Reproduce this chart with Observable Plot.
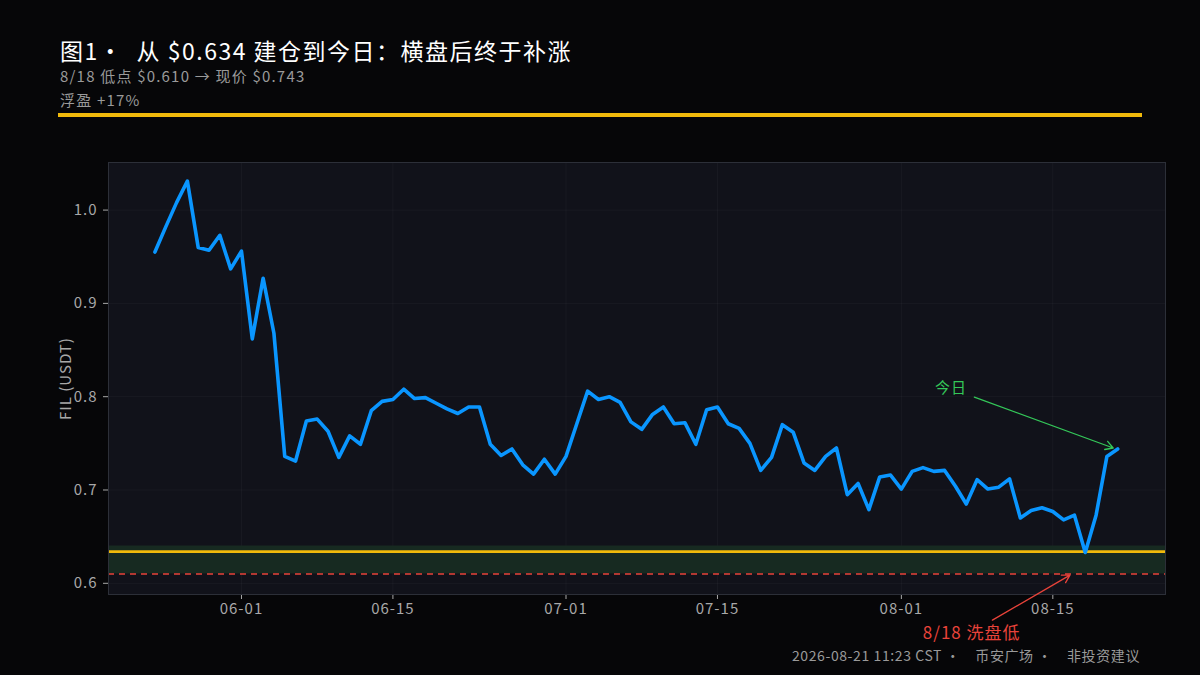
<!DOCTYPE html>
<html>
<head>
<meta charset="utf-8">
<script src="https://cdn.jsdelivr.net/npm/d3@7"></script>
<script src="https://cdn.jsdelivr.net/npm/@observablehq/plot@0.6"></script>
<style>
  html, body { margin: 0; padding: 0; background: #060608; width: 1200px; height: 675px; overflow: hidden; }
  body { position: relative; font-family: "Noto Sans CJK SC", "Noto Sans", sans-serif; }
  #title { position: absolute; left: 60px; top: 39px; font-size: 23px; letter-spacing: 1.5px; color: #ffffff; white-space: pre; line-height: 1; }
  #sub1 { position: absolute; left: 60px; top: 68px; font-size: 15px; letter-spacing: 1.2px; color: #9a9a9a; line-height: 1; }
  #sub2 { position: absolute; left: 60px; top: 92px; font-size: 15px; letter-spacing: 1.2px; color: #9a9a9a; line-height: 1; }
  #rule { position: absolute; left: 58px; top: 113px; width: 1084px; height: 4px; background: #f0b90b; }
  #chart { position: absolute; left: 0; top: 140px; }
  #footer { position: absolute; right: 60px; top: 648px; font-size: 14px; letter-spacing: 0.6px; color: #9a9a9a; white-space: pre; line-height: 1; }
</style>
</head>
<body>
<div id="title">图1·  从 $0.634 建仓到今日：横盘后终于补涨</div>
<div id="sub1">8/18 低点 $0.610 → 现价 $0.743</div>
<div id="sub2">浮盈 +17%</div>
<div id="rule"></div>
<div id="chart"></div>
<div id="footer">2026-08-21 11:23 CST ·    币安广场 ·    非投资建议</div>
<script>
// ---- data ----
const startDate = "2026-05-24";
const prices = [
  0.955, 0.982, 1.008, 1.031, 0.960, 0.957, 0.973, 0.937, // 05-24 .. 05-31
  0.956, 0.862, 0.927, 0.868, 0.736, 0.731, 0.774, 0.776, 0.763, 0.735, // 06-01 .. 06-10
  0.758, 0.749, 0.785, 0.795, 0.797, 0.808, 0.798, 0.799, 0.793, 0.787, // 06-11 .. 06-20
  0.782, 0.789, 0.789, 0.749, 0.737, 0.744, 0.727, 0.717, 0.733, 0.717, // 06-21 .. 06-30
  0.736, 0.771, 0.806, 0.797, 0.800, 0.794, 0.773, 0.765, 0.781, 0.789, // 07-01 .. 07-10
  0.771, 0.772, 0.749, 0.786, 0.789, 0.771, 0.766, 0.750, 0.721, 0.735, // 07-11 .. 07-20
  0.770, 0.762, 0.729, 0.721, 0.736, 0.745, 0.695, 0.707, 0.679, 0.714, // 07-21 .. 07-30
  0.716, // 07-31
  0.701, 0.720, 0.724, 0.720, 0.721, 0.704, 0.685, 0.711, 0.701, 0.703, // 08-01 .. 08-10
  0.712, 0.670, 0.678, 0.681, 0.677, 0.668, 0.673, 0.633, 0.673, 0.736, // 08-11 .. 08-20
  0.744 // 08-21
];
const entryPrice = 0.634;
const lowPrice = 0.610;
const bandTop = 0.640;
const xTickDates = ["2026-06-01", "2026-06-15", "2026-07-01", "2026-07-15", "2026-08-01", "2026-08-15"];
const yTicks = [0.6, 0.7, 0.8, 0.9, 1.0];
const xDomain = ["2026-05-19T17:00", "2026-08-25T10:00"];
const yDomain = [0.588, 1.051];
// annotations: text anchor and arrow (from -> to), in date/value space
const todayNote = {label: "今日", tx: "2026-08-05T14:00", ty: 0.809, x1: "2026-08-07T18:00", y1: 0.7996, x2: "2026-08-20T14:00", y2: 0.745};
const lowNote = {label: "8/18 洗盘低", tx: "2026-08-07T12:00", ty: 0.5465, x1: "2026-08-09T10:00", y1: 0.5606, x2: "2026-08-16T14:00", y2: 0.6088};

// ---- build ----
const parse = d3.utcParse("%Y-%m-%d");
const parseT = d3.utcParse("%Y-%m-%dT%H:%M");
const t0 = parse(startDate);
const series = prices.map((v, i) => ({date: d3.utcDay.offset(t0, i), price: v}));
const notes = [todayNote, lowNote].map(n => ({
  label: n.label, tx: parseT(n.tx), ty: n.ty, x1: parseT(n.x1), y1: n.y1, x2: parseT(n.x2), y2: n.y2
}));

const chart = Plot.plot({
  width: 1200,
  height: 535,
  marginLeft: 108,
  marginRight: 35,
  marginTop: 22,
  marginBottom: 81,
  style: {background: "transparent", color: "#a8a8a8", fontFamily: "'Noto Sans CJK SC', 'Noto Sans', sans-serif", fontSize: "15px", letterSpacing: "1px", overflow: "visible"},
  x: {type: "utc", domain: xDomain.map(parseT), ticks: xTickDates.map(parse), tickFormat: d3.utcFormat("%m-%d"), label: null, tickSize: 5, tickPadding: 4},
  y: {domain: yDomain, ticks: yTicks, tickFormat: ".1f", label: "FIL (USDT)", labelAnchor: "center", labelArrow: "none", labelOffset: 48, tickSize: 5, tickPadding: 6},
  marks: [
    Plot.frame({fill: "#11121a", stroke: "none"}),
    Plot.gridY(yTicks, {stroke: "#ffffff", strokeOpacity: 0.035}),
    Plot.gridX(xTickDates.map(parse), {stroke: "#ffffff", strokeOpacity: 0.035}),
    Plot.rect([{y1: lowPrice, y2: bandTop}], {y1: "y1", y2: "y2", fill: "#172a21"}),
    Plot.ruleY([lowPrice], {stroke: "#e8433a", strokeWidth: 1.6, strokeDasharray: "6,5"}),
    Plot.ruleY([entryPrice], {stroke: "#f0b90b", strokeWidth: 2.6}),
    Plot.line(series, {x: "date", y: "price", stroke: "#0a96ff", strokeWidth: 3.6, strokeLinejoin: "round", strokeLinecap: "round"}),
    Plot.frame({stroke: "#2c2f38", strokeWidth: 1}),
    Plot.arrow([notes[0]], {x1: "x1", y1: "y1", x2: "x2", y2: "y2", stroke: "#34c759", strokeWidth: 1.3, headLength: 10, bend: 0}),
    Plot.text([notes[0]], {x: "tx", y: "ty", text: "label", fill: "#34c759", fontSize: 15, textAnchor: "middle"}),
    Plot.arrow([notes[1]], {x1: "x1", y1: "y1", x2: "x2", y2: "y2", stroke: "#e8433a", strokeWidth: 1.3, headLength: 10, bend: 0, clip: false}),
    Plot.text([notes[1]], {x: "tx", y: "ty", text: "label", fill: "#e8433a", fontSize: 17, textAnchor: "middle", clip: false})
  ]
});
document.getElementById("chart").appendChild(chart);
</script>
</body>
</html>
